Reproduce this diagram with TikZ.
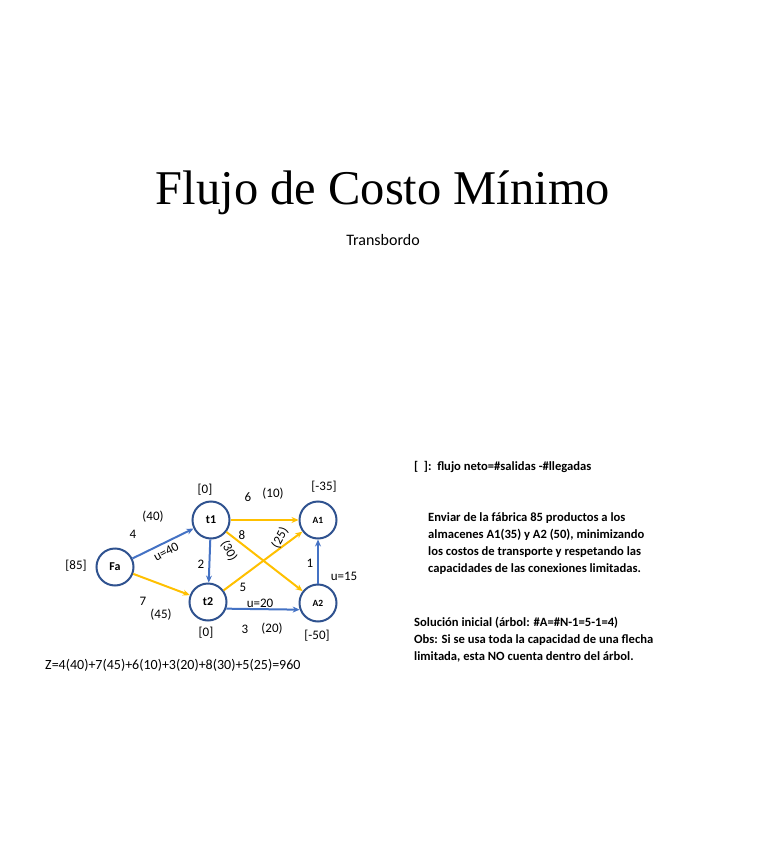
\documentclass[tikz,border=0pt]{standalone}
\usepackage{fontspec}
\setmainfont{Carlito}
\newfontfamily\titlefont{Liberation Serif}
\usetikzlibrary{arrows.meta}
\definecolor{eblue}{HTML}{4472C4}
\definecolor{nblue}{HTML}{2F528F}
\definecolor{eorange}{HTML}{FFC000}
\begin{document}
\begin{tikzpicture}[x=1pt,y=-1pt,
  nd/.style={circle,draw=nblue,line width=2pt,minimum size=37pt,inner sep=0pt,font=\bfseries\fontsize{12}{12}\selectfont},
  ndsm/.style={nd,font=\bfseries\fontsize{9.5}{10}\selectfont},
  be/.style={draw=eblue,line width=2pt,-{Stealth[length=7pt,width=6pt]}},
  oe/.style={draw=eorange,line width=2pt,-{Stealth[length=7pt,width=6pt]}},
  lb/.style={font=\fontsize{13}{14}\selectfont,inner sep=0pt},
  tx/.style={font=\bfseries\fontsize{12.6}{17}\selectfont,inner sep=0pt,align=left,anchor=north west}]
\useasboundingbox (0,0) rectangle (768,866);
\node (title) at (383,193) {\titlefont\fontsize{48.5}{50}\selectfont Flujo de Costo Mínimo};
\node (sub) at (383,240) {\fontsize{16}{17}\selectfont Transbordo};
\node[nd] (Fa) at (115,567) {Fa};
\node[nd] (t1) at (211,520) {t1};
\node[nd] (t2) at (208,602) {t2};
\node[ndsm] (A1) at (318,520) {A1};
\node[ndsm] (A2) at (318,603) {A2};
\draw[oe] (t1) -- (A1);
\draw[oe] (t1) -- (A2);
\draw[oe] (t2) -- (A1);
\draw[oe] (Fa) -- (t2);
\draw[be] (Fa) -- (t1);
\draw[be] (t1) -- (t2);
\draw[be] (t2.-20) -- (A2.-160);
\draw[be] (A2) -- (A1);
\node[lb] (l85) at (76,566) {[85]};
\node[lb] (l01) at (205,490) {[0]};
\node[lb] (l02) at (206,633) {[0]};
\node[lb] (l35) at (324,487) {[-35]};
\node[lb] (l50) at (317,636) {[-50]};
\node[lb] (c4) at (133,534) {4};
\node[lb] (f40) at (153,517) {(40)};
\node[lb,rotate=28] (u40) at (166,552) {u=40};
\node[lb] (c7) at (143,601) {7};
\node[lb] (f45) at (161,615) {(45)};
\node[lb] (c6) at (248,497) {6};
\node[lb] (f10) at (273,494) {(10)};
\node[lb] (c8) at (242,535) {8};
\node[lb,rotate=-62] (f30) at (229,551) {(30)};
\node[lb,rotate=62] (f25) at (280,538) {(25)};
\node[lb] (c2) at (201,564) {2};
\node[lb] (c5) at (243,587) {5};
\node[lb] (c1) at (310,563) {1};
\node[lb] (u15) at (344,576) {u=15};
\node[lb] (u20) at (260,603) {u=20};
\node[lb] (c3) at (245,629) {3};
\node[lb] (f20) at (272,629) {(20)};
\node[lb,anchor=west,font=\fontsize{14}{15}\selectfont] (Z) at (45,665) {Z=4(40)+7(45)+6(10)+3(20)+8(30)+5(25)=960};
\node[tx] (leg) at (414,461) {[\ \ ]:\ \ flujo neto=\#salidas -\#llegadas};
\node[tx] (desc) at (428,512) {Enviar de la fábrica 85 productos a los\\almacenes A1(35) y A2 (50), minimizando\\los costos de transporte y respetando las\\capacidades de las conexiones limitadas.};
\node[tx] (sol) at (414,617) {Solución inicial (árbol: \#A=\#N-1=5-1=4)\\Obs: Si se usa toda la capacidad de una flecha\\limitada, esta NO cuenta dentro del árbol.};
\end{tikzpicture}
\end{document}
